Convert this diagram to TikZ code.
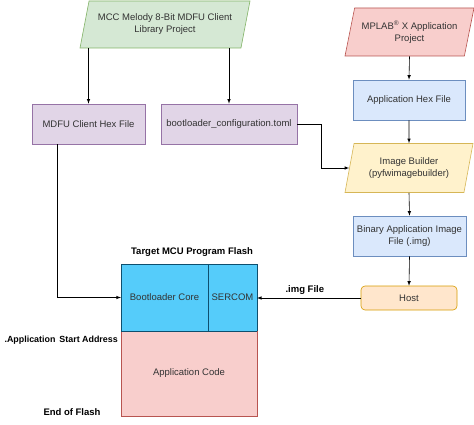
\documentclass[tikz,border=0pt]{standalone}
\usepackage{fontspec}
\setmainfont{Liberation Sans}
\usepackage{xcolor}
\usepackage{tikz}
\usetikzlibrary{shapes,arrows,positioning}
\usetikzlibrary{arrows.meta}
\definecolor{greenFill}{HTML}{D5E8D4}
\definecolor{greenLine}{HTML}{82B366}
\definecolor{purpleFill}{HTML}{E1D5E7}
\definecolor{purpleLine}{HTML}{9673A6}
\definecolor{redFill}{HTML}{F8CECC}
\definecolor{redLine}{HTML}{B85450}
\definecolor{blueFill}{HTML}{DAE8FC}
\definecolor{blueLine}{HTML}{6C8EBF}
\definecolor{yellowFill}{HTML}{FFF2CC}
\definecolor{yellowLine}{HTML}{D6B656}
\definecolor{orangeFill}{HTML}{FFE6CC}
\definecolor{orangeLine}{HTML}{D79B00}
\definecolor{memFill}{HTML}{55CCFA}
\definecolor{memLine}{HTML}{0E4F6E}
\definecolor{textGray}{HTML}{333333}
\tikzset{>=latex}
\tikzset{flow-line/.style={line width=0.6pt}}
\tikzset{flow-box/.style={draw, inner sep=2pt, align=center, text=textGray, line width=0.6pt,
    font=\fontsize{9.5}{12}\selectfont}}
\tikzset{purple-box/.style={flow-box, fill=purpleFill, draw=purpleLine, minimum height=40pt}}
\tikzset{blue-box/.style={flow-box, fill=blueFill, draw=blueLine, minimum height=40pt}}
\tikzset{io-box/.style={
    flow-box,
    trapezium,
    trapezium left angle=70,
    trapezium right angle=110,
    trapezium stretches body,
    minimum height=47pt
}}
\tikzset{mem-box/.style={draw=memLine, line width=0.8pt, outer sep=0pt, text=textGray,
    font=\fontsize{9.5}{12}\selectfont}}
\tikzset{bold-label/.style={inner sep=1pt, font=\bfseries\fontsize{9.5}{12}\selectfont}}

\begin{document}
\begin{tikzpicture}[x=1pt, y=-1pt]
    \useasboundingbox (0,0) rectangle (474,425);

    % inputs
    \node[io-box, fill=greenFill, draw=greenLine, minimum width=170pt] (mccproject) at (165,24.5)
        {MCC Melody 8-Bit MDFU Client\\Library Project};
    \node[io-box, fill=redFill, draw=redLine, minimum width=129pt, minimum height=48pt] (mplabproject) at (409.5,32)
        {MPLAB\textsuperscript{\textregistered} X Application\\Project};

    \node[purple-box, minimum width=113pt] (mdfuhex) at (88.5,124) {MDFU Client Hex File};
    \node[purple-box, minimum width=136pt] (cfgfile) at (229,124) {bootloader\_configuration.toml};

    % application chain
    \node[blue-box, minimum width=112pt] (apphex) at (409,100) {Application Hex File};
    \node[io-box, fill=yellowFill, draw=yellowLine, minimum width=128pt, minimum height=49pt] (builder) at (409,168)
        {Image Builder\\(pyfwimagebuilder)};
    \node[blue-box, minimum width=113pt] (binimg) at (409.5,236) {Binary Application Image\\File (.img)};
    \node[flow-box, fill=orangeFill, draw=orangeLine, rounded corners=4pt,
          minimum width=96pt, minimum height=24pt] (host) at (409,298) {Host};

    % program flash
    \node[mem-box, fill=memFill, minimum width=87pt, minimum height=67pt] (bootcore) at (164.5,297.5) {Bootloader Core};
    \node[mem-box, fill=memFill, minimum width=49pt, minimum height=67pt, right=0pt of bootcore] (sercom) {SERCOM};
    \node[mem-box, fill=redFill, draw=redLine, minimum width=136pt, minimum height=85pt,
          anchor=north west] (appcode) at (bootcore.south west) {Application Code};
    \draw[memLine, line width=0.8pt] (bootcore.south west) -- (sercom.south east);

    \node[bold-label] (flashtitle) at (192,252) {Target MCU Program Flash};
    \node[bold-label, anchor=east, font=\bfseries\fontsize{8.9}{11}\selectfont] (startaddr) at (119,340)
        {.Application\,\ Start Address};
    \node[bold-label] (endflash) at (72,412) {End of Flash};

    % connectors
    \draw[->, flow-line] (mdfuhex |- mccproject.south) -- (mdfuhex.north);
    \draw[->, flow-line] (cfgfile |- mccproject.south) -- (cfgfile.north);
    \draw[->, flow-line] (mplabproject.south) -- (apphex.north);
    \draw[->, flow-line] (apphex.south) -- (builder.north);
    \draw[->, flow-line] (builder.south) -- (binimg.north);
    \draw[->, flow-line] (binimg.south) -- (host.north);
    \draw[->, flow-line] (cfgfile.east) -- ++(24,0) |- (builder.west);
    \draw[->, flow-line] ([xshift=-31.5pt]mdfuhex.south) |- (bootcore.west);
    \draw[->, flow-line] (host.west) -- node[bold-label, above=2pt, xshift=-4pt] (imglabel) {.img File} (sercom.east |- host.west);
\end{tikzpicture}
\end{document}
